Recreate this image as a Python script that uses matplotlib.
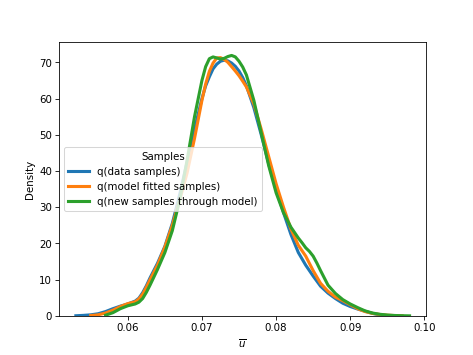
import matplotlib
matplotlib.use("Agg")
import matplotlib.pyplot as plt

# density curves (x = u-bar, y = density)
x_blue = [0.053, 0.054, 0.055, 0.056, 0.057, 0.058, 0.059, 0.060, 0.061, 0.0615,
          0.062, 0.0625, 0.063, 0.064, 0.065, 0.066, 0.067, 0.068, 0.069, 0.070,
          0.0705, 0.071, 0.0715, 0.072, 0.0725, 0.073, 0.0735, 0.074, 0.0745, 0.075,
          0.0755, 0.076, 0.077, 0.078, 0.079, 0.080, 0.081, 0.082, 0.083, 0.084,
          0.085, 0.086, 0.087, 0.088, 0.089, 0.090, 0.091, 0.092, 0.093, 0.094,
          0.095, 0.096]
y_blue = [0.05, 0.15, 0.3, 0.6, 1.2, 2.0, 2.7, 3.3, 4.1, 4.9,
          6.4, 8.3, 10.5, 14.5, 19.2, 25.5, 33.5, 42.5, 51.5, 60.0,
          63.5, 66.0, 68.2, 69.5, 70.3, 70.6, 70.4, 69.8, 68.9, 67.6,
          65.8, 63.5, 57.5, 50.0, 42.0, 35.0, 28.5, 22.5, 17.5, 14.0,
          11.0, 8.2, 6.3, 4.8, 3.5, 2.6, 1.9, 1.3, 0.7, 0.3,
          0.1, 0.03]

x_orange = [0.055, 0.056, 0.057, 0.058, 0.059, 0.060, 0.061, 0.0615, 0.062, 0.0625,
            0.063, 0.064, 0.065, 0.066, 0.067, 0.068, 0.069, 0.070, 0.0705, 0.071,
            0.0715, 0.072, 0.0725, 0.073, 0.0735, 0.074, 0.0745, 0.075, 0.0755, 0.076,
            0.077, 0.078, 0.079, 0.080, 0.081, 0.082, 0.083, 0.084, 0.085, 0.086,
            0.087, 0.088, 0.089, 0.090, 0.091, 0.092, 0.093, 0.094, 0.095, 0.096,
            0.097]
y_orange = [0.1, 0.3, 0.8, 1.6, 2.6, 3.4, 3.9, 4.7, 6.0, 7.9,
            10.0, 14.0, 19.0, 25.0, 32.0, 39.5, 49.0, 59.5, 64.0, 67.5,
            69.8, 71.2, 71.3, 70.8, 70.0, 68.8, 67.6, 66.3, 64.8, 63.2,
            58.5, 51.5, 44.0, 36.5, 30.0, 24.0, 19.5, 16.5, 12.5, 9.0,
            6.8, 5.2, 4.2, 3.1, 2.0, 1.2, 0.7, 0.4, 0.2, 0.1,
            0.05]

x_green = [0.057, 0.058, 0.059, 0.060, 0.061, 0.0615, 0.062, 0.0625, 0.063, 0.064,
           0.065, 0.066, 0.067, 0.068, 0.069, 0.070, 0.0705, 0.071, 0.0715, 0.072,
           0.0725, 0.073, 0.0735, 0.074, 0.0745, 0.075, 0.0755, 0.076, 0.077, 0.078,
           0.079, 0.080, 0.081, 0.082, 0.083, 0.0835, 0.084, 0.0845, 0.085, 0.0855,
           0.086, 0.087, 0.088, 0.089, 0.090, 0.091, 0.092, 0.093, 0.094, 0.095,
           0.096, 0.097, 0.098]
y_green = [0.2, 0.9, 2.0, 2.8, 3.3, 3.8, 4.8, 6.5, 8.5, 12.8,
           17.5, 23.5, 32.0, 43.0, 55.0, 65.0, 68.8, 71.0, 71.5, 71.2,
           70.9, 71.1, 71.6, 71.9, 71.5, 70.3, 68.7, 66.5, 59.5, 50.5,
           41.5, 34.0, 28.5, 24.5, 21.5, 20.2, 18.8, 17.8, 16.5, 14.6,
           12.5, 8.5, 6.2, 4.5, 3.3, 2.3, 1.4, 0.8, 0.45, 0.25,
           0.12, 0.06, 0.02]

labels = ["q(data samples)", "q(model fitted samples)", "q(new samples through model)"]

fig, ax = plt.subplots(figsize=(6.4, 4.8), dpi=74)
ax.plot(x_blue, y_blue, color="tab:blue", lw=3, solid_joinstyle="round", label=labels[0])
ax.plot(x_orange, y_orange, color="tab:orange", lw=3, solid_joinstyle="round", label=labels[1])
ax.plot(x_green, y_green, color="tab:green", lw=3, solid_joinstyle="round", label=labels[2])

ax.set_ylim(0, None)
ax.set_xlabel(r"$\overline{u}$")
ax.set_ylabel("Density")
ax.legend(title="Samples", loc="center left")

fig.savefig("out.png", dpi=74)
